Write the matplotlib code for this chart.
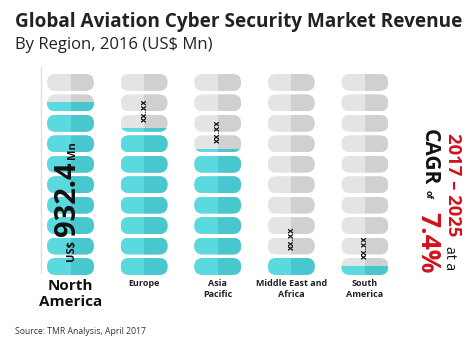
import matplotlib
matplotlib.use("Agg")
import matplotlib.pyplot as plt
from matplotlib.patches import FancyBboxPatch, Rectangle

plt.rcParams['font.family'] = ['Open Sans', 'DejaVu Sans']

# data
regions = ["North\nAmerica", "Europe", "Asia\nPacific", "Middle East and\nAfrica", "South\nAmerica"]
revenue = [932.4, 785.0, 676.0, 109.0, 60.0]       # US$ Mn (only NA is published)
value_labels = ["932.4", "xx.xx", "xx.xx", "xx.xx", "xx.xx"]
pill_value = 109.0     # US$ Mn represented by one pill
n_pills = 10

W, H = 474, 351
fig = plt.figure(figsize=(W / 100, H / 100), dpi=100)
fig.patch.set_facecolor('white')


def fp(px, py):
    return px / W, 1 - py / H


# pill axes: x = region index, y = pill units
left_px, width_px = 33.7, 368.0
bottom_px, height_px = 276.7, 204.5
ax = fig.add_axes([left_px / W, 1 - bottom_px / H, width_px / W, height_px / H])
ax.set_xlim(-0.5, 4.5)
ax.set_ylim(0, n_pills)
ax.axis('off')

xunit = width_px / 5
yunit = height_px / n_pills
pw = 47 / xunit
gap = 0.085
ph = 1 - 2 * gap
rad = 8.5 / xunit
aspect = xunit / yunit

gray_l, gray_r = '#e4e4e4', '#d0d0d0'
teal_l, teal_r = '#5ad9de', '#48c8ce'

for i, v in enumerate(revenue):
    level = v / pill_value
    x0 = i - pw / 2
    for k in range(n_pills):
        y0 = k + gap
        pill = FancyBboxPatch((x0, y0), pw, ph,
                              boxstyle=f"round,pad=0,rounding_size={rad}",
                              mutation_aspect=aspect,
                              facecolor='none', edgecolor='none')
        ax.add_patch(pill)
        frac = min(max(level - k, 0), 1)
        parts = [(x0, y0, pw / 2, ph, gray_l), (i, y0, pw / 2, ph, gray_r)]
        if frac > 0:
            parts += [(x0, y0, pw / 2, ph * frac, teal_l), (i, y0, pw / 2, ph * frac, teal_r)]
        for (rx, ry, rw, rh, c) in parts:
            r = Rectangle((rx, ry), rw, rh, facecolor=c, edgecolor='none')
            ax.add_patch(r)
            r.set_clip_path(pill)
    if i > 0:
        k = int(level)
        top = k + gap + ph * (level - k) if level - k > 0 else level
        ax.text(i, top + 0.3, value_labels[i], rotation=90, ha='center', va='bottom',
                fontsize=6.5, fontweight='bold', color='#111111')

# North America value
fig.text(*fp(72, 251), "US$", rotation=90, ha='center', va='center',
         fontsize=8, fontweight='bold', color='#111111')
fig.text(*fp(67, 199), value_labels[0], rotation=90, ha='center', va='center',
         fontsize=21, fontweight='bold', color='#111111')
fig.text(*fp(72, 150), "Mn", rotation=90, ha='center', va='center',
         fontsize=8, fontweight='bold', color='#111111')

# region labels
for i, lab in enumerate(regions):
    xf = (left_px + (i + 0.5) * xunit) / W
    if i == 0:
        fig.text(xf, fp(0, 279)[1], lab, ha='center', va='top', fontsize=11,
                 fontweight='bold', color='#111111', linespacing=1.15)
    else:
        fig.text(xf, fp(0, 279)[1], lab, ha='center', va='top', fontsize=6.5,
                 fontweight='bold', color='#222222', linespacing=1.25)

# left rule
fig.add_artist(plt.Line2D([41 / W, 41 / W], [fp(0, 67)[1], fp(0, 273)[1]],
                          color='#e0e0e0', lw=1))

# titles
fig.text(*fp(15, 22), "Global Aviation Cyber Security Market Revenue", ha='left', va='center',
         fontsize=13.7, fontweight='bold', color='#222222')
fig.text(*fp(15, 45), "By Region, 2016 (US$ Mn)", ha='left', va='center',
         fontsize=12, color='#222222')
fig.text(*fp(15, 331), "Source: TMR Analysis, April 2017", ha='left', va='center',
         fontsize=6.2, color='#333333')

# CAGR callout (reads top to bottom)
red = '#d0121b'
fig.text(*fp(453, 185), "2017 \u2013 2025", rotation=-90, ha='center', va='center',
         fontsize=13.3, fontweight='bold', color=red)
fig.text(*fp(450, 258), "at a", rotation=-90, ha='center', va='center',
         fontsize=10, color='#111111')
fig.text(*fp(429, 157), "CAGR", rotation=-90, ha='center', va='center',
         fontsize=15, fontweight='bold', color='#111111')
fig.text(*fp(428, 194), "of", rotation=-90, ha='center', va='center',
         fontsize=6.5, fontweight='bold', color='#111111')
fig.text(*fp(428, 243), "7.4%", rotation=-90, ha='center', va='center',
         fontsize=19, fontweight='bold', color=red)

fig.savefig("out.png", dpi=100)
